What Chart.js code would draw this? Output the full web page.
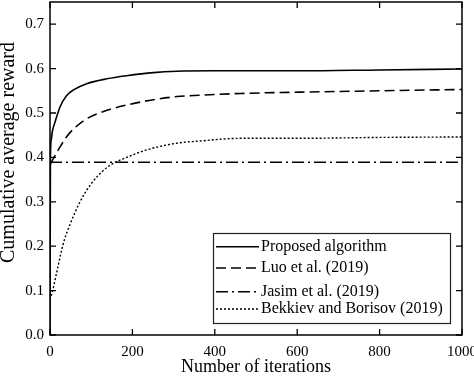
<!DOCTYPE html>
<html><head><meta charset="utf-8">
<script src="https://cdn.jsdelivr.net/npm/chart.js@4"></script>
<style>html,body{margin:0;padding:0;background:#fff}#wrap{width:474px;height:382px;position:relative}</style>
</head><body><div id="wrap"><canvas id="c"></canvas></div>
<script>
const xTicks = [0, 200, 400, 600, 800, 1000];
const yTicks = [0, 0.1, 0.2, 0.3, 0.4, 0.5, 0.6, 0.7];
const seriesNames = ['Proposed algorithm', 'Luo et al. (2019)', 'Jasim et al. (2019)', 'Bekkiev and Borisov (2019)'];
const xTitle = 'Number of iterations';
const yTitle = 'Cumulative average reward';

const proposedIter = [0, 1, 3, 6, 12, 24, 40, 57, 89, 138, 186, 251, 308, 400, 500, 607, 800, 1000];
const proposedVal  = [0, 0.40, 0.44, 0.46, 0.479, 0.513, 0.539, 0.552, 0.566, 0.577, 0.584, 0.591, 0.594, 0.595, 0.595, 0.595, 0.597, 0.599];

const luoIter = [1, 8, 24, 40, 57, 89, 138, 186, 251, 308, 365, 462, 607, 800, 1000];
const luoVal  = [0.385, 0.397, 0.423, 0.446, 0.464, 0.487, 0.506, 0.518, 0.530, 0.537, 0.540, 0.544, 0.547, 0.550, 0.553];

const jasimIter = [0, 1000];
const jasimVal  = [0.389, 0.389];

const bekIter = [0, 2, 6.5, 16, 32, 49, 73, 97, 130, 158, 186, 235, 308, 365, 462, 607, 800, 1000];
const bekVal  = [0.08, 0.086, 0.10, 0.14, 0.205, 0.25, 0.30, 0.337, 0.371, 0.389, 0.40, 0.417, 0.432, 0.437, 0.443, 0.443, 0.445, 0.446];

const pts = (xs, ys) => xs.map((x, i) => ({x, y: ys[i]}));
const serif = 'Liberation Serif, Times New Roman, serif';

const datasets = [
  {label: seriesNames[0], data: pts(proposedIter, proposedVal), borderWidth: 1.6, borderDash: []},
  {label: seriesNames[1], data: pts(luoIter, luoVal), borderWidth: 1.6, borderDash: [10, 5]},
  {label: seriesNames[2], data: pts(jasimIter, jasimVal), borderWidth: 1.6, borderDash: [12, 4, 2, 4]},
  {label: seriesNames[3], data: pts(bekIter, bekVal), borderWidth: 1.4, borderDash: [2, 2]}
].map(d => Object.assign(d, {borderColor: '#000', pointRadius: 0, fill: false, cubicInterpolationMode: 'monotone'}));

const framePlugin = {
  id: 'frame',
  afterDatasetsDraw(chart) {
    const {ctx, chartArea: a, scales: {x, y}} = chart;
    ctx.save();
    ctx.strokeStyle = '#000';
    ctx.lineWidth = 1.5;
    ctx.strokeRect(a.left, a.top, a.right - a.left, a.bottom - a.top);
    ctx.lineWidth = 1.3;
    const L = 6;
    ctx.beginPath();
    x.ticks.forEach(t => {
      const px = x.getPixelForValue(t.value);
      ctx.moveTo(px, a.bottom); ctx.lineTo(px, a.bottom - L);
      ctx.moveTo(px, a.top); ctx.lineTo(px, a.top + L);
    });
    y.ticks.forEach(t => {
      const py = y.getPixelForValue(t.value);
      ctx.moveTo(a.left, py); ctx.lineTo(a.left + L, py);
      ctx.moveTo(a.right, py); ctx.lineTo(a.right - L, py);
    });
    ctx.stroke();
    // y axis title
    ctx.translate(9, 152.5);
    ctx.rotate(-Math.PI / 2);
    ctx.fillStyle = '#000';
    ctx.font = '20px ' + serif;
    ctx.textAlign = 'center';
    ctx.textBaseline = 'middle';
    ctx.fillText(yTitle, 0, 0);
    ctx.restore();
  }
};

const legendPlugin = {
  id: 'boxLegend',
  afterDraw(chart) {
    const {ctx} = chart;
    const rowsY = [246.7, 268, 291.7, 309];
    ctx.save();
    ctx.fillStyle = '#fff';
    ctx.fillRect(213.5, 233.5, 237, 90);
    ctx.strokeStyle = '#222';
    ctx.lineWidth = 1.2;
    ctx.strokeRect(213.5, 233.5, 237, 90);
    chart.data.datasets.forEach((ds, i) => {
      ctx.strokeStyle = ds.borderColor;
      ctx.lineWidth = ds.borderWidth;
      ctx.setLineDash(ds.borderDash);
      ctx.beginPath();
      ctx.moveTo(216, rowsY[i]);
      ctx.lineTo(259, rowsY[i]);
      ctx.stroke();
      ctx.setLineDash([]);
      ctx.fillStyle = '#000';
      ctx.font = '16px ' + serif;
      ctx.textBaseline = 'middle';
      ctx.textAlign = 'left';
      ctx.fillText(ds.label, 261, rowsY[i]);
    });
    ctx.restore();
  }
};

new Chart(document.getElementById('c'), {
  type: 'line',
  data: {datasets},
  plugins: [framePlugin, legendPlugin],
  options: {
    responsive: true,
    maintainAspectRatio: false,
    animation: false,
    devicePixelRatio: 1,
    layout: {padding: {top: 2, right: 12, left: 0, bottom: 0}},
    plugins: {legend: {display: false}, tooltip: {enabled: false}},
    scales: {
      x: {
        type: 'linear', min: 0, max: 1000,
        afterBuildTicks: s => { s.ticks = xTicks.map(v => ({value: v})); },
        afterFit: s => { s.height = 47; s.paddingLeft = 0; s.paddingRight = 0; },
        grid: {display: false, drawTicks: false, tickLength: 0}, border: {display: false},
        ticks: {color: '#000', font: {family: serif, size: 15}, padding: 8, maxRotation: 0, autoSkip: false, callback: v => String(v)},
        title: {display: true, text: xTitle, color: '#000', font: {family: serif, size: 18, lineHeight: 1.2}, padding: {top: 0, bottom: 4}}
      },
      y: {
        type: 'linear', min: 0, max: 0.75,
        afterBuildTicks: s => { s.ticks = yTicks.map(v => ({value: v})); },
        afterFit: s => { s.width = 50; s.paddingTop = 0; s.paddingBottom = 0; },
        grid: {display: false, drawTicks: false, tickLength: 0}, border: {display: false},
        ticks: {color: '#000', font: {family: serif, size: 15}, padding: 6, callback: v => Number(v).toFixed(1)}
      }
    }
  }
});
</script></body></html>
